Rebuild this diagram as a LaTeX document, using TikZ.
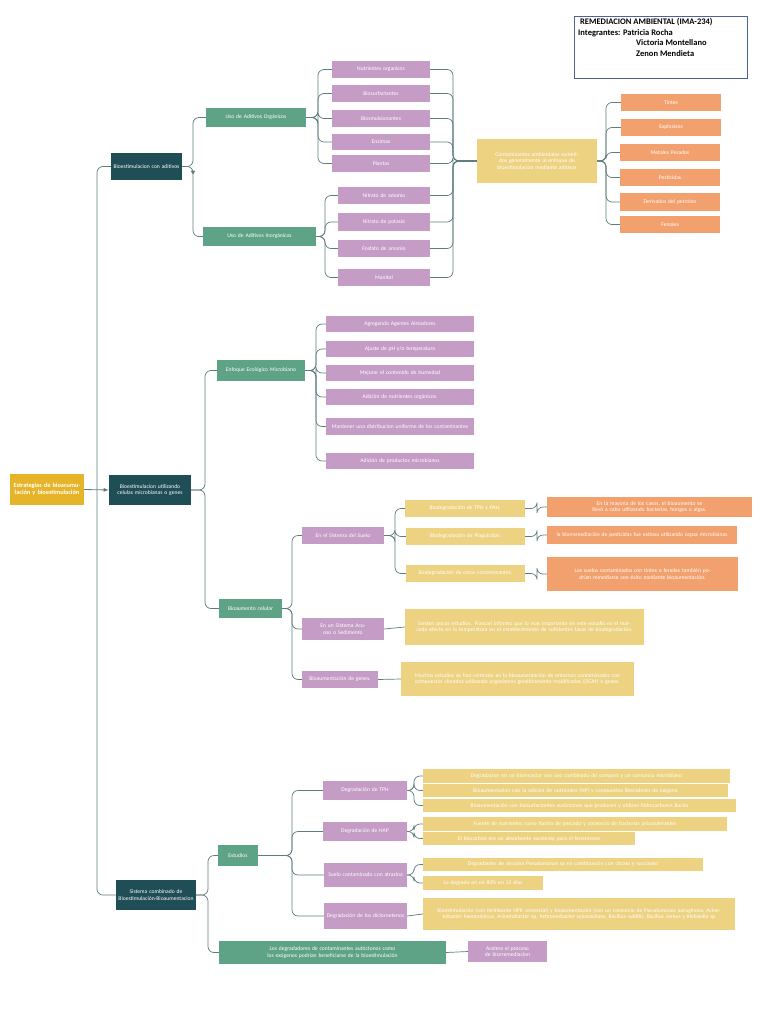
\documentclass[tikz,border=0pt]{standalone}
\usepackage{fontspec}
\setmainfont{Carlito}
\begin{document}
\begin{tikzpicture}[x=1pt,y=-1pt,font=\fontsize{5.6}{6.6}\selectfont,
 box/.style={inner sep=0pt,align=center,text=white},
 dk/.style={box,fill=dkc},
 gr/.style={box,fill=grc},
 pu/.style={box,fill=puc},
 ye/.style={box,fill=yec},
 ora/.style={box,fill=orc},
 conn/.style={draw=lnc,line width=0.7pt,rounded corners=6pt}]
\definecolor{dkc}{HTML}{1F4E56}
\definecolor{grc}{HTML}{5FA386}
\definecolor{puc}{HTML}{C49CC6}
\definecolor{yec}{HTML}{EDD282}
\definecolor{orc}{HTML}{F2A06D}
\definecolor{goc}{HTML}{E6B429}
\definecolor{lnc}{HTML}{5E7C7E}
\useasboundingbox (0,0) rectangle (768,1024);
\newcommand\bx[7]{\node[#1,minimum width={#5-#3},minimum height={#6-#4},text width={#5-#3-4}] (#2) at ({(#3+#5)/2},{(#4+#6)/2}) {#7};}
% title
\node[draw=lnc!80!blue,line width=1pt,minimum width=173,minimum height=62,anchor=north west,inner sep=0] (title) at (574,16) {};
\node[anchor=north west,inner sep=0,align=left,font=\fontsize{8.5}{10.5}\selectfont\bfseries] (tt) at (578,18) {\hspace*{2pt}REMEDIACION AMBIENTAL (IMA-234)\\Integrantes: Patricia Rocha\\\hspace*{58pt}Victoria Montellano\\\hspace*{58pt}Zenon Mendieta};
% root
\bx{box,fill=goc,font=\fontsize{6.3}{7.3}\selectfont\bfseries}{root}{10}{474}{84}{505}{Estrategias de bioacumulación y bioestimulación}
\bx{dk}{b1}{111}{153}{182}{180}{Bioestimulacion con aditivos}
\bx{dk}{b2}{109}{475}{191}{505}{Bioestimulacion utilizando celulas microbianas o genes}
\bx{dk}{b3}{116}{880}{196}{910}{Sistema combinado de Bioestimulación-Bioaumentacion}
\draw[conn] (b1.west) -- (97,166.5) -- (97,895) -- (b3.west);
\draw[lnc,line width=0.8pt,-latex] (root.east) -- (b2.west);
% branch 1
\bx{gr}{org}{206}{108}{306}{127}{Uso de Aditivos Orgánicos}
\bx{gr}{inorg}{203}{227}{316}{246}{Uso de Aditivos Inorgánicos}
\draw[conn] (b1.east) -- (193,166.5) |- (org.west);
\draw[conn] (b1.east) -- (193,166.5) |- (inorg.west);
\draw[lnc,fill=lnc] (193,174) -- ++(-2,-3) -- ++(4,0) -- cycle;
\bx{pu}{p1}{332}{61}{430}{78}{Nutrientes organicos}
\bx{pu}{p2}{332}{85}{430}{102}{Biosurfactantes}
\bx{pu}{p3}{332}{110}{430}{127}{Biosmulsionantes}
\bx{pu}{p4}{332}{134}{430}{150}{Enzimas}
\bx{pu}{p5}{332}{155}{430}{172}{Plantas}
\bx{pu}{p6}{338}{187}{430}{204}{Nitrato de amonio}
\bx{pu}{p7}{338}{213}{430}{231}{Nitrato de potasio}
\bx{pu}{p8}{338}{240}{430}{257}{Fosfato de amonio}
\bx{pu}{p9}{338}{269}{430}{286}{Manitol}
\foreach \c in {p1,p2,p3,p4,p5} \draw[conn] (org.east) -| (318,0 |- \c.west) -- (\c.west);
\foreach \c in {p6,p7,p8,p9} \draw[conn] (inorg.east) -| (325,0 |- \c.west) -- (\c.west);
\bx{ye}{cont}{477}{139}{597}{183}{Contaminantes ambientales sometidos generalmente al enfoque de bioestimulación mediante aditivos}
\foreach \c in {p1,p2,p3,p4,p5,p6,p7,p8,p9} \draw[conn] (\c.east) -| (453,0 |- cont.west) -- (cont.west);
\bx{ora}{o1}{621}{94}{721}{111}{Tintes}
\bx{ora}{o2}{621}{119}{721}{136}{Explosivos}
\bx{ora}{o3}{620}{144}{720}{161}{Metales Pesados}
\bx{ora}{o4}{620}{169}{720}{186}{Pesticidas}
\bx{ora}{o5}{620}{193}{720}{211}{Derivados del petroleo}
\bx{ora}{o6}{620}{216}{720}{233}{Fenoles}
\foreach \c in {o1,o2,o3,o4,o5,o6} \draw[conn] (cont.east) -| (606,0 |- \c.west) -- (\c.west);
% branch 2
\bx{gr}{enf}{217}{360}{305}{381}{Enfoque Ecológico Microbiano}
\bx{gr}{bioa}{219}{599}{282}{618}{Bioaumento celular}
\draw[conn] (b2.east) -| (205,0 |- enf.west) -- (enf.west);
\draw[conn] (b2.east) -| (205,0 |- bioa.west) -- (bioa.west);
\bx{pu}{e1}{326}{316}{474}{332}{Agregando Agentes Aireadores}
\bx{pu}{e2}{326}{341}{474}{357}{Ajuste de pH y/o temperatura}
\bx{pu}{e3}{326}{365}{474}{381}{Mejorar el contenido de humedad}
\bx{pu}{e4}{326}{389}{474}{405}{Adición de nutrientes orgánicos.}
\bx{pu}{e5}{326}{418}{474}{435}{Mantener una distribucion uniforme de los contaminantes}
\bx{pu}{e6}{326}{453}{474}{469}{Adición de productos microbianos}
\foreach \c in {e1,e2,e3,e4,e5,e6} \draw[conn] (enf.east) -| (316,0 |- \c.west) -- (\c.west);
\bx{pu}{s1}{302}{527}{384}{544}{En el Sistema del Suelo}
\bx{pu}{s2}{302}{618}{384}{640}{En un Sistema Acuoso o Sedimento}
\bx{pu}{s3}{302}{671}{378}{688}{Bioaumentación de genes.}
\foreach \c in {s1,s2,s3} \draw[conn] (bioa.east) -| (292,0 |- \c.west) -- (\c.west);
\bx{ye}{y1}{405}{500}{525}{517}{Biodegradación de TPH y PAH.}
\bx{ye}{y2}{406}{528}{525}{545}{Biodegradación de Plaguicidas.}
\bx{ye}{y3}{406}{565}{525}{582}{Biodegradación de otros contaminantes.}
\foreach \c in {y1,y2,y3} \draw[conn] (s1.east) -| (395,0 |- \c.west) -- (\c.west);
\bx{ora}{r1}{547}{497}{752}{517}{En la mayoría de los casos, el bioaumento se llevó a cabo utilizando bacterias, hongos o algas.}
\bx{ora}{r2}{547}{526}{737}{544}{la biorremediación de pesticidas fue exitosa utilizando cepas microbianas}
\bx{ora}{r3}{547}{557}{738}{591}{Los suelos contaminados con tintes o fenoles también podrían remediarse con éxito mediante bioaumentación.}
\draw[conn] (y1.east) -| (537,0 |- r1.west) -- (r1.west);
\draw[conn] (y2.east) -| (537,0 |- r2.west) -- (r2.west);
\draw[conn] (y3.east) -| (537,0 |- r3.west) -- (r3.west);
\bx{ye}{a1}{405}{609}{644}{645}{Existen pocos estudios. Frascari informo que lo mas importante en este estudio es el marcado efecto en la temperatura en el establecimiento de suficientes tasas de biodegradación.}
\bx{ye}{a2}{401}{662}{634}{696}{Muchos estudios se han centrado en la bioaumentación de entornos contaminados con compuestos clorados utilizando organismos genéticamente modificados (OGM) o genes.}
\draw[conn] (s2.east) -- (a1.west);
\draw[conn] (s3.east) -- (a2.west);
% branch 3
\bx{gr}{est}{218}{845}{258}{866}{Estudios}
\bx{gr}{deg}{219}{941}{446}{964}{Los degradadores de contaminantes autóctonos como los exógenos podrían beneficiarse de la bioestimulación}
\draw[conn] (b3.east) -| (208,0 |- est.west) -- (est.west);
\draw[conn] (b3.east) -| (208,0 |- deg.west) -- (deg.west);
\bx{pu}{d1}{323}{781}{407}{800}{Degradación de TPH}
\bx{pu}{d2}{323}{822}{407}{841}{Degradación de HAP}
\bx{pu}{d3}{324}{863}{407}{887}{Suelo contaminado con atrazina}
\bx{pu}{d4}{324}{903}{407}{929}{Degradación de los dicloroetenos}
\foreach \c in {d1,d2,d3,d4} \draw[conn] (est.east) -| (292,0 |- \c.west) -- (\c.west);
\bx{ye}{t1}{423}{769}{730}{783}{Degradacion en un biorreactor con uso combinado de compost y un consorcio microbiano}
\bx{ye}{t2}{423}{784}{728}{797}{Bioaumentacion con la adición de nutrientes (NP) y compuestos liberadores de oxígeno}
\bx{ye}{t3}{423}{799}{736}{812}{Bioaumentación con biosurfactantes autóctonos que producen y utilizan hidrocarburos Bacilo}
\bx{ye}{t4}{423}{817}{727}{831}{Fuente de nutrientes como harina de pescado y consorcio de bacterias psicotolerantes}
\bx{ye}{t5}{423}{832}{635}{845}{El biocarbón era un absorbente excelente para el fenantreno}
\bx{ye}{t6}{423}{858}{703}{871}{Degradantes de atrazina Pseudomonas sp en combinación con citrato y succinato}
\bx{ye}{t7}{423}{876}{543}{890}{Lo degrado en un 80\% en 13 días}
\bx{ye}{t8}{423}{898}{735}{930}{bioestimulación (con fertilizante NPK comercial) y bioaumentación (con un consorcio de Pseudomonas aeruginosa, Acinetobacter haemolyticus, Acinetobacter sp, Achromobacter xylosoxidans, Bacillus subtilis, Bacillus cereus y Klebsiella sp}
\foreach \c in {t1,t2,t3} \draw[conn] (d1.east) -| (414,0 |- \c.west) -- (\c.west);
\foreach \c in {t4,t5} \draw[conn] (d2.east) -| (414,0 |- \c.west) -- (\c.west);
\foreach \c in {t6,t7} \draw[conn] (d3.east) -| (414,0 |- \c.west) -- (\c.west);
\draw[conn] (d4.east) -- (t8.west);
\bx{pu}{acc}{468}{941}{547}{962}{Acelera el proceso de biorremediacion}
\draw[conn] (deg.east) -- (acc.west);
\end{tikzpicture}
\end{document}
